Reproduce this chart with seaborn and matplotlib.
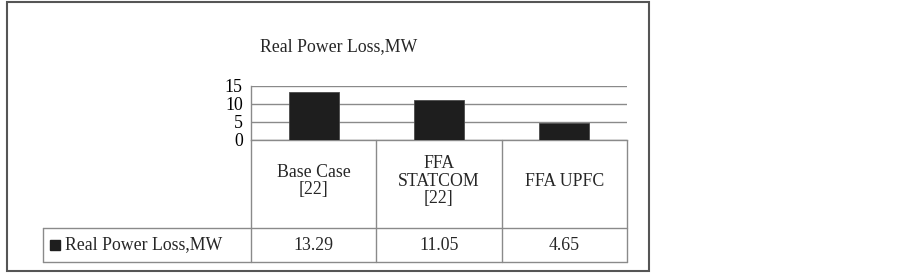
import pandas as pd
import matplotlib.pyplot as plt
import matplotlib.patches as mpatches
import seaborn as sns

# Данные
categories = ['Base Case\n[22]', 'FFA\nSTATCOM\n[22]', 'FFA UPFC']
loss_values = [13.29, 11.05, 4.65]
value_labels = ['13.29', '11.05', '4.65']
series_name = 'Real Power Loss,MW'
y_ticks = [0, 5, 10, 15]

sns.set_style('white')
plt.rcParams['font.family'] = ['Liberation Serif', 'DejaVu Serif']

W, H = 903, 273
fs = 12.8
fig = plt.figure(figsize=(W / 100, H / 100), dpi=100)
ax = fig.add_axes([251 / W, 1 - 140 / H, 376 / W, 54 / H])

df = pd.DataFrame({'category': categories, 'loss': loss_values})
sns.barplot(data=df, x='category', y='loss', color='#1e1e1e', saturation=1,
            width=0.4, edgecolor='#4a4a4a', linewidth=0.6, ax=ax, zorder=3)

ax.set_xlim(-0.5, 2.5)
ax.set_ylim(0, 15)
ax.set_yticks(y_ticks)
ax.set_xticks([])
ax.set_xlabel('')
ax.set_ylabel('')
ax.yaxis.grid(True, color='#8a8a8a', linewidth=1)
ax.set_axisbelow(True)
ax.tick_params(axis='y', length=0, pad=6, labelsize=fs, labelcolor='black')
for side in ['top', 'right']:
    ax.spines[side].set_visible(False)
for side in ['left', 'bottom']:
    ax.spines[side].set_color('#8a8a8a')
    ax.spines[side].set_linewidth(1)

# Таблица данных под графиком
trans = ax.get_xaxis_transform()
line_kw = dict(color='#8a8a8a', lw=1, transform=trans, clip_on=False)
y_head = -(228 - 140) / 54
y_row = -(262 - 140) / 54
x_left = -0.5 - (251 - 43) / 125.3
for xb in [-0.5, 0.5, 1.5, 2.5]:
    ax.plot([xb, xb], [0, y_row], **line_kw)
ax.plot([x_left, 2.5], [y_head, y_head], **line_kw)
ax.plot([x_left, 2.5], [y_row, y_row], **line_kw)
ax.plot([x_left, x_left], [y_head, y_row], **line_kw)

y_cat = -(181 - 140) / 54
y_val = -(245 - 140) / 54
for i, (cat, lab) in enumerate(zip(categories, value_labels)):
    ax.text(i, y_cat, cat, transform=trans, ha='center', va='center',
            fontsize=fs, linespacing=1.0)
    ax.text(i, y_val, lab, transform=trans, ha='center', va='center', fontsize=fs)

ax.plot([x_left + 12 / 125.3], [y_val], marker='s', markersize=7,
        color='#1e1e1e', transform=trans, clip_on=False)
ax.text(x_left + 22 / 125.3, y_val, series_name, transform=trans,
        ha='left', va='center', fontsize=fs)

# Заголовок
fig.text(339 / W, 1 - 47 / H, series_name, ha='center', va='center', fontsize=fs)

# Рамка
fig.add_artist(mpatches.Rectangle((7 / W, 2 / H), 642 / W, 269 / H,
                                  transform=fig.transFigure, fill=False,
                                  edgecolor='#555555', linewidth=1.5))

fig.savefig('out.png', dpi=100)
